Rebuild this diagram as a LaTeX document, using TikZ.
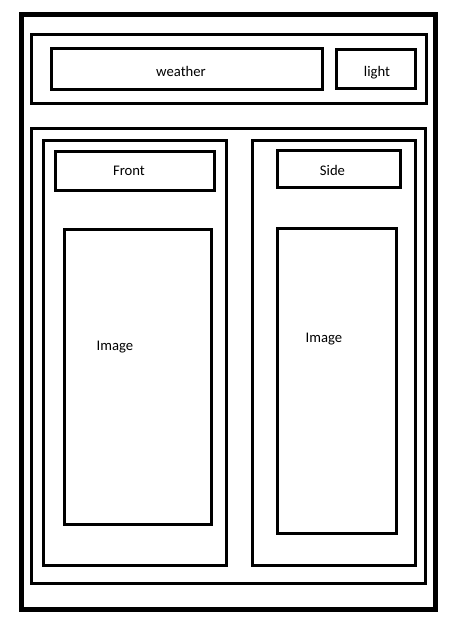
\documentclass[tikz,border=0pt]{standalone}
\usepackage{fontspec}
\setmainfont{Carlito}
\usepackage{tikz}
\usetikzlibrary{positioning}

\begin{document}
\begin{tikzpicture}[x=0.75pt, y=-0.75pt,
  box/.style = {draw, shape = rectangle, inner sep = 0pt, line width = 2.25pt},
  lbl/.style = {anchor = base, inner sep = 0pt, font = \fontsize{11pt}{13pt}\selectfont}]
\useasboundingbox (0,0) rectangle (450,622);
% outer frame
\node[box, line width = 3.75pt, minimum width = 310.5pt, minimum height = 446.25pt] (page) at (228.5,312) {};
% top bar
\node[box, minimum width = 296.25pt, minimum height = 51.4pt] (topbar) at (228.5,68.75) {};
\node[box, minimum width = 203.6pt, minimum height = 30.4pt] (weatherbox) at (186.75,69.25) {};
\node[box, minimum width = 59.25pt, minimum height = 29.25pt] (lightbox) at (376,69) {};
\node[lbl] (weather) at (181,76.5) {weather};
\node[lbl] (light) at (377,76) {light};
% views
\node[box, minimum width = 295.5pt, minimum height = 340.9pt] (views) at (228.5,355.75) {};
\node[box, minimum width = 137.6pt, minimum height = 319.1pt] (frontpanel) at (135.25,353.25) {};
\node[box, minimum width = 121.9pt, minimum height = 319.1pt] (sidepanel) at (333.75,352.75) {};
\node[box, minimum width = 119.25pt, minimum height = 29.25pt] (frontbox) at (135,171) {};
\node[box, minimum width = 92.25pt, minimum height = 28.1pt] (sidebox) at (339,169.25) {};
\node[lbl] (front) at (129,175.8) {Front};
\node[lbl] (side) at (332.5,175.8) {Side};
\node[box, minimum width = 109.9pt, minimum height = 221.25pt] (frontimg) at (138.25,377) {};
\node[box, minimum width = 89.6pt, minimum height = 229.1pt] (sideimg) at (337.25,380.75) {};
\node[lbl] (frontimage) at (115,350.3) {Image};
\node[lbl] (sideimage) at (324,342.3) {Image};
\end{tikzpicture}
\end{document}
